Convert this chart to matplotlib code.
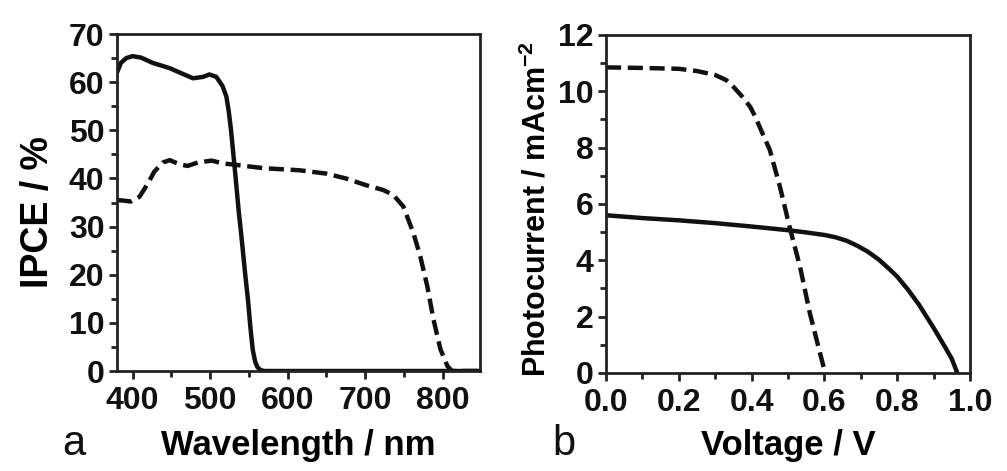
import matplotlib
matplotlib.use("Agg")
import matplotlib.pyplot as plt
from matplotlib.ticker import MultipleLocator

plt.rcParams['font.family'] = ['Liberation Sans', 'DejaVu Sans']
plt.rcParams['font.weight'] = 'bold'
plt.rcParams['axes.labelweight'] = 'bold'
plt.rcParams['mathtext.fontset'] = 'custom'
plt.rcParams['mathtext.rm'] = 'Liberation Sans:bold'
plt.rcParams['mathtext.bf'] = 'Liberation Sans:bold'
plt.rcParams['mathtext.default'] = 'bf'

# panel a: IPCE spectra
wl_solid = [380, 385, 392, 400, 411, 426, 448, 465, 478, 491, 499, 508, 516, 521, 524,
            527, 530, 533, 537, 540, 545, 549, 552, 555, 558, 561, 565, 570, 700, 848]
ipce_solid = [62.0, 64.0, 65.0, 65.4, 65.1, 64.0, 62.9, 61.7, 60.8, 61.1, 61.6, 61.1, 59.2, 57.0, 54.0,
              50.0, 45.0, 40.0, 33.0, 28.6, 20.5, 14.5, 9.0, 4.4, 2.0, 0.8, 0.2, 0.0, 0.0, 0.0]

wl_dash = [380, 388, 398, 409, 420, 428, 439, 448, 461, 471, 484, 502, 517, 529, 560, 572,
           615, 650, 675, 701, 723, 736, 749, 762, 771, 780, 788, 797, 806, 812, 848]
ipce_dash = [35.5, 35.4, 35.2, 36.2, 39.0, 41.4, 43.3, 43.8, 42.9, 42.6, 43.3, 43.7, 43.1, 42.9, 42.3, 42.1,
             41.7, 41.0, 40.0, 38.6, 37.6, 36.6, 34.2, 28.7, 23.8, 17.6, 10.7, 4.5, 1.0, 0.0, 0.0]

# panel b: J-V curves
v_solid = [0.0, 0.1, 0.2, 0.3, 0.4, 0.5, 0.55, 0.6, 0.63, 0.66, 0.69, 0.72, 0.75, 0.78,
           0.8, 0.83, 0.86, 0.9, 0.93, 0.95, 0.965]
j_solid = [5.6, 5.5, 5.42, 5.32, 5.2, 5.07, 4.99, 4.9, 4.82, 4.7, 4.52, 4.3, 4.02, 3.67,
           3.42, 2.95, 2.42, 1.6, 0.95, 0.5, 0.0]

v_dash = [0.0, 0.1, 0.2, 0.25, 0.3, 0.33, 0.35, 0.375, 0.396, 0.41, 0.43, 0.45, 0.478, 0.505,
          0.533, 0.56, 0.588, 0.602]
j_dash = [10.85, 10.83, 10.8, 10.72, 10.58, 10.4, 10.16, 9.8, 9.45, 9.1, 8.5, 7.92, 6.6, 5.15,
          3.77, 2.12, 0.7, 0.0]

ink = '#111111'
dash = (0, (3.4, 1.5))

fig = plt.figure(figsize=(10.07, 4.71), dpi=100)
ax1 = fig.add_axes([0.1162, 0.2123, 0.3605, 0.7155])
ax2 = fig.add_axes([0.6018, 0.2081, 0.3615, 0.7176])

ax1.plot(wl_solid, ipce_solid, color=ink, lw=3.2, solid_capstyle='round', solid_joinstyle='round')
ax1.plot(wl_dash, ipce_dash, color=ink, lw=3.2, ls=dash)
ax1.set_xlim(380, 848)
ax1.set_ylim(0, 70)
ax1.xaxis.set_major_locator(MultipleLocator(100))
ax1.xaxis.set_minor_locator(MultipleLocator(50))
ax1.yaxis.set_major_locator(MultipleLocator(10))
ax1.yaxis.set_minor_locator(MultipleLocator(5))
ax1.set_xlabel('Wavelength / nm', fontsize=25, fontweight='bold', va='center')
ax1.set_ylabel('IPCE / %', fontsize=27, fontweight='bold', va='center')
ax1.xaxis.set_label_coords(0.5, -0.22)
ax1.yaxis.set_label_coords(-0.218, 0.473)

ax2.plot(v_solid, j_solid, color=ink, lw=3.2, solid_capstyle='round', solid_joinstyle='round')
ax2.plot(v_dash, j_dash, color=ink, lw=3.2, ls=dash)
ax2.set_xlim(0, 1.0)
ax2.set_ylim(0, 12)
ax2.xaxis.set_major_locator(MultipleLocator(0.2))
ax2.xaxis.set_minor_locator(MultipleLocator(0.1))
ax2.yaxis.set_major_locator(MultipleLocator(2))
ax2.yaxis.set_minor_locator(MultipleLocator(1))
ax2.xaxis.set_major_formatter(plt.FuncFormatter(lambda v, p: f'{v:.1f}'))
ax2.set_xlabel('Voltage / V', fontsize=25, fontweight='bold', va='center')
ax2.set_ylabel(r'Photocurrent / mAcm$^{-2}$', fontsize=22, fontweight='bold', va='center')
ax2.xaxis.set_label_coords(0.5, -0.216)
ax2.yaxis.set_label_coords(-0.19, 0.485)

for ax in (ax1, ax2):
    for s in ax.spines.values():
        s.set_linewidth(2.0)
        s.set_color('#222222')
    ax.tick_params(which='major', direction='out', length=6, width=2, labelsize=23,
                   top=False, right=False, pad=3, colors='#222222', labelcolor='#111111')
    ax.tick_params(axis='x', which='major', pad=5)
    ax.tick_params(which='minor', direction='out', length=4, width=2,
                   top=False, right=False, colors='#222222')
    for lab in ax.get_xticklabels() + ax.get_yticklabels():
        lab.set_fontweight('bold')

fig.text(74 / 1007, 1 - 455 / 471, 'a', fontsize=30, fontweight='normal', ha='center', va='baseline', color=ink)
fig.text(564 / 1007, 1 - 455 / 471, 'b', fontsize=30, fontweight='normal', ha='center', va='baseline', color=ink)

fig.savefig('out.png', dpi=100, facecolor='white')
